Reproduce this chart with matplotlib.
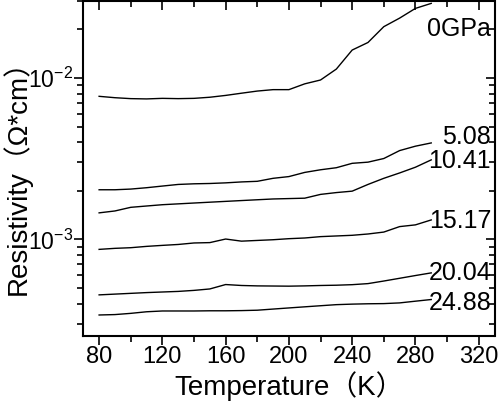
import numpy as np
import matplotlib
matplotlib.use('Agg')
import matplotlib.pyplot as plt
from matplotlib.ticker import LogLocator, MultipleLocator, NullFormatter

plt.rcParams['font.family'] = ['Liberation Sans', 'Noto Sans CJK SC', 'DejaVu Sans']
plt.rcParams['mathtext.fontset'] = 'custom'
plt.rcParams['mathtext.rm'] = 'Liberation Sans'
plt.rcParams['mathtext.it'] = 'Liberation Sans:italic'

# temperature (K)
temp = np.arange(80, 300, 10)

# resistivity (Ohm*cm) for each pressure
rho_0 = [7.7e-3, 7.55e-3, 7.45e-3, 7.42e-3, 7.48e-3, 7.45e-3, 7.48e-3, 7.6e-3, 7.8e-3, 8.05e-3, 8.3e-3,
         8.47e-3, 8.47e-3, 9.2e-3, 9.72e-3, 1.136e-2, 1.49e-2, 1.66e-2, 2.08e-2, 2.35e-2, 2.7e-2, 2.9e-2]
rho_508 = [2.03e-3, 2.03e-3, 2.05e-3, 2.09e-3, 2.14e-3, 2.19e-3, 2.21e-3, 2.22e-3, 2.24e-3, 2.27e-3, 2.29e-3,
           2.39e-3, 2.45e-3, 2.60e-3, 2.70e-3, 2.78e-3, 2.96e-3, 3.01e-3, 3.17e-3, 3.55e-3, 3.78e-3, 3.96e-3]
rho_1041 = [1.46e-3, 1.50e-3, 1.58e-3, 1.61e-3, 1.64e-3, 1.66e-3, 1.68e-3, 1.70e-3, 1.72e-3, 1.74e-3, 1.76e-3,
            1.78e-3, 1.79e-3, 1.80e-3, 1.90e-3, 1.95e-3, 1.99e-3, 2.19e-3, 2.39e-3, 2.58e-3, 2.80e-3, 3.11e-3]
rho_1517 = [8.67e-4, 8.8e-4, 8.88e-4, 9.05e-4, 9.18e-4, 9.3e-4, 9.5e-4, 9.55e-4, 1.005e-3, 9.75e-4, 9.85e-4,
            9.95e-4, 1.01e-3, 1.02e-3, 1.04e-3, 1.05e-3, 1.06e-3, 1.08e-3, 1.11e-3, 1.20e-3, 1.23e-3, 1.32e-3]
rho_2004 = [4.53e-4, 4.58e-4, 4.63e-4, 4.68e-4, 4.72e-4, 4.76e-4, 4.83e-4, 4.93e-4, 5.25e-4, 5.18e-4, 5.15e-4,
            5.14e-4, 5.13e-4, 5.15e-4, 5.18e-4, 5.20e-4, 5.24e-4, 5.32e-4, 5.52e-4, 5.74e-4, 5.97e-4, 6.20e-4]
rho_2488 = [3.40e-4, 3.42e-4, 3.48e-4, 3.56e-4, 3.60e-4, 3.60e-4, 3.60e-4, 3.61e-4, 3.61e-4, 3.62e-4, 3.64e-4,
            3.70e-4, 3.76e-4, 3.82e-4, 3.88e-4, 3.94e-4, 3.97e-4, 3.99e-4, 4.00e-4, 4.04e-4, 4.14e-4, 4.24e-4]

series = [rho_0, rho_508, rho_1041, rho_1517, rho_2004, rho_2488]
labels = ['0GPa', '5.08', '10.41', '15.17', '20.04', '24.88']
# where the labels sit (y value, in data units)
label_y = [2.0e-2, 4.3e-3, 3.05e-3, 1.3e-3, 6.2e-4, 4.05e-4]

fig = plt.figure(figsize=(5, 4.03), dpi=100)
ax = fig.add_axes([0.1666, 0.1663, 0.8224, 0.8312])

for rho in series:
    ax.plot(temp, rho, color='black', lw=1.0)

for lab, yv in zip(labels, label_y):
    ax.text(0.992, yv, lab, transform=ax.get_yaxis_transform(), ha='right', va='center', fontsize=18)

ax.set_yscale('log')
ax.set_xlim(70, 330)
ax.set_ylim(2.52e-4, 3.0e-2)

ax.xaxis.set_major_locator(MultipleLocator(40))
ax.xaxis.set_major_formatter(plt.FuncFormatter(lambda v, p: '%d' % v))
ax.xaxis.set_minor_locator(MultipleLocator(20))
ax.xaxis.set_minor_formatter(NullFormatter())
ax.set_xticks(np.arange(80, 321, 40))
ax.yaxis.set_major_locator(LogLocator(base=10, numticks=10))
ax.yaxis.set_minor_locator(LogLocator(base=10, subs=np.arange(2, 10), numticks=10))
ax.yaxis.set_minor_formatter(NullFormatter())

ax.tick_params(which='both', direction='out', width=1.2, pad=1)
ax.tick_params(axis='x', labelsize=17)
ax.tick_params(axis='y', labelsize=16.5)
ax.tick_params(which='major', length=6.5)
ax.tick_params(which='minor', length=4)
ax.tick_params(which='both', top=True, right=True)

for s in ax.spines.values():
    s.set_linewidth(1.5)

ax.set_xlabel('Temperature（K）', fontsize=20, labelpad=2)
fig.text(0.004, 0.578, 'Resistivity（Ω*cm）', fontsize=20, rotation=90, ha='left', va='center')

# top and right ticks point inward
for t in ax.xaxis.get_major_ticks() + ax.xaxis.get_minor_ticks():
    t.tick2line.set_marker(3)
for t in ax.yaxis.get_major_ticks() + ax.yaxis.get_minor_ticks():
    t.tick2line.set_marker(0)

fig.savefig('out.png', dpi=100)
